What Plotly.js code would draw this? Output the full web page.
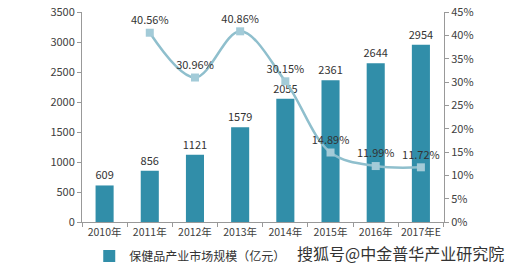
<!DOCTYPE html>
<html><head><meta charset="utf-8">
<script src="https://cdn.plot.ly/plotly-3.0.1.min.js"></script>
<style>html,body{margin:0;padding:0;background:#fff}#c{width:520px;height:272px}</style>
</head><body><div id="c"></div>
<script>
const years = ['2010年','2011年','2012年','2013年','2014年','2015年','2016年','2017年E'];
const marketSize = [609, 856, 1121, 1579, 2055, 2361, 2644, 2954];
const growthYears = ['2011年','2012年','2013年','2014年','2015年','2016年','2017年E'];
const growthRate = [40.56, 30.96, 40.86, 30.15, 14.89, 11.99, 11.72];
const leftTicks = [0,500,1000,1500,2000,2500,3000,3500];
const rightTicks = [0,5,10,15,20,25,30,35,40,45];

const font = {family: '"Noto Sans CJK SC", "Open Sans", sans-serif', size: 11, color: '#404040'};

const traces = [
  {type:'bar', x: years, y: marketSize, name:'保健品产业市场规模（亿元）',
   marker:{color:'#318ea9'}, text: marketSize.map(String), textposition:'outside',
   constraintext:'none', textfont:{size:11,color:'#333'}, cliponaxis:false},
  {type:'scatter', mode:'lines+markers+text', x: growthYears, y: growthRate, yaxis:'y2',
   name:'增长率（%）', line:{shape:'spline', color:'#8fbfcd', width:2.5, smoothing:1},
   marker:{symbol:'square', size:8, color:'#a3cbd8'},
   text: growthRate.map(v=>v.toFixed(2)+'%'), textposition:'top center',
   textfont:{size:11,color:'#333'}, showlegend:false, cliponaxis:false}
];

const layout = {
  width:520, height:272, margin:{l:82, r:76, t:12, b:50, autoexpand:false},
  paper_bgcolor:'#fff', plot_bgcolor:'#fff', font: font,
  bargap:0.6,
  xaxis:{type:'category', showline:true, linecolor:'#999', ticks:'outside', ticklen:4, tickcolor:'#999',
         tickson:'boundaries', showgrid:false, tickangle:0, automargin:false, tickfont:{size:10.5,color:'#404040'}},
  yaxis:{range:[0,3500], tickvals:leftTicks, showline:true, linecolor:'#999', ticks:'outside', ticklen:4,
         tickcolor:'#999', showgrid:false, zeroline:false, automargin:false, tickfont:{size:11,color:'#404040'}},
  yaxis2:{range:[0,45], tickvals:rightTicks, ticktext:rightTicks.map(v=>v+'%'), overlaying:'y', side:'right',
          showline:true, linecolor:'#999', ticks:'outside', ticklen:4, tickcolor:'#999', showgrid:false,
          zeroline:false, automargin:false, tickfont:{size:11,color:'#404040'}},
  showlegend:true,
  legend:{orientation:'h', x:0.02, y:-0.162, xanchor:'left', yanchor:'middle', font:{size:12,color:'#333'}},
  annotations:[{text:'搜狐号@中金普华产业研究院', xref:'paper', yref:'paper', x:1.17, y:-0.15,
    xanchor:'right', yanchor:'middle', showarrow:false,
    font:{family:'"Noto Sans CJK SC", sans-serif', size:16, color:'#333'}}]
};
Plotly.newPlot('c', traces, layout, {displayModeBar:false, staticPlot:true});
</script></body></html>
